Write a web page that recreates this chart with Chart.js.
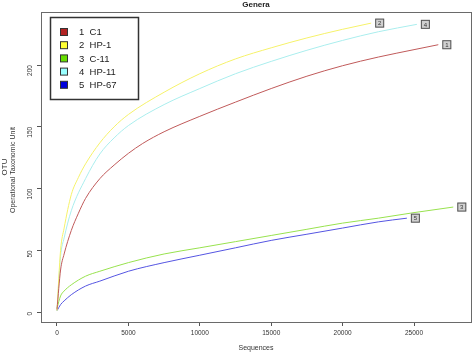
<!DOCTYPE html>
<html>
<head>
<meta charset="utf-8">
<script src="https://cdn.jsdelivr.net/npm/chart.js@4"></script>
<style>
  html, body { margin: 0; padding: 0; background: #fff; }
  #wrap { width: 474px; height: 354px; }
</style>
</head>
<body>
<div id="wrap"><canvas id="chart" width="474" height="354"></canvas></div>
<script>
const c1X   = [0, 250, 500, 1000, 1500, 2000, 3000, 4000, 5000, 6000, 7500, 10000, 12500, 15000, 17500, 20000, 22500, 25000, 26700];
const c1Y   = [2, 34, 47, 66, 80, 92, 108, 119, 128.5, 136.5, 146, 158.5, 170, 181, 191, 199.5, 206.5, 212.5, 216.5];
const hp1X  = [0, 250, 500, 1000, 1500, 2000, 3000, 4000, 5000, 7500, 10000, 12500, 15000, 17500, 20000, 22000];
const hp1Y  = [1, 50, 68, 95, 109, 120, 137, 150, 160, 178, 193, 205, 214, 222, 229, 234];
const c11X  = [0, 250, 500, 1000, 2000, 3000, 5000, 7500, 10000, 12500, 15000, 17500, 20000, 22500, 25000, 27750];
const c11Y  = [3, 13, 17, 22, 29, 33, 40, 47, 52, 57, 62, 67, 72, 76, 80.5, 85];
const hp11X = [0, 250, 500, 1000, 2000, 3000, 4000, 5000, 7500, 10000, 12500, 15000, 17500, 20000, 22500, 25200];
const hp11Y = [1, 45, 60, 82, 108, 128, 141, 151, 168, 181, 193, 203, 212, 220, 227, 233];
const hp67X = [0, 250, 500, 1000, 2000, 3000, 5000, 7500, 10000, 12500, 15000, 17500, 20000, 22500, 24500];
const hp67Y = [1, 6, 9, 14, 21, 25, 33, 40, 46, 52, 58, 63, 68, 73, 76];

const seriesNames = ['C1', 'HP-1', 'C-11', 'HP-11', 'HP-67'];
const lineColors = ['#c05a5a', '#f6f26a', '#98e24e', '#aaeeee', '#5555e2'];
const keyColors = ['#b22222', '#ffff33', '#66dd00', '#99ffff', '#0000dd'];
const xTicks = [0, 5000, 10000, 15000, 20000, 25000];
const yTicks = [0, 50, 100, 150, 200];

const FONT = '"Liberation Sans", Arial, sans-serif';

function pts(xs, ys) {
  return xs.map((x, i) => ({ x, y: ys[i] }));
}
const allX = [c1X, hp1X, c11X, hp11X, hp67X];
const allY = [c1Y, hp1Y, c11Y, hp11Y, hp67Y];

// box, title, axis titles, legend and end labels, R style
const decor = {
  id: 'decor',
  afterDraw(chart) {
    const ctx = chart.ctx;
    const a = chart.chartArea;
    ctx.save();
    ctx.strokeStyle = '#6a6a6a';
    ctx.lineWidth = 1;
    ctx.strokeRect(a.left + 0.5, a.top + 0.5, a.right - a.left - 1, a.bottom - a.top);

    ctx.fillStyle = '#222';
    ctx.font = 'bold 8px ' + FONT;
    ctx.textAlign = 'center';
    ctx.textBaseline = 'middle';
    ctx.fillText('Genera', 256, 5);

    ctx.font = '7px ' + FONT;
    ctx.fillStyle = '#333';
    ctx.fillText('Sequences', 256, 348);

    ctx.save();
    ctx.translate(5, 167);
    ctx.rotate(-Math.PI / 2);
    ctx.font = '8px ' + FONT;
    ctx.fillText('OTU', 0, 0);
    ctx.restore();
    ctx.save();
    ctx.translate(13, 170);
    ctx.rotate(-Math.PI / 2);
    ctx.font = '7px ' + FONT;
    ctx.fillText('Operational Taxonomic Unit', 0, 0);
    ctx.restore();

    // legend
    ctx.strokeStyle = '#333';
    ctx.lineWidth = 1.5;
    ctx.strokeRect(50.5, 17.5, 88, 82);
    ctx.font = '9.5px ' + FONT;
    ctx.textAlign = 'left';
    seriesNames.forEach((n, i) => {
      const y = 32 + i * 13.2;
      ctx.fillStyle = keyColors[i];
      ctx.fillRect(60, y - 3.5, 7, 7);
      ctx.strokeStyle = '#333';
      ctx.lineWidth = 1;
      ctx.strokeRect(60.5, y - 3.5, 7, 7);
      ctx.fillStyle = '#222';
      ctx.fillText((i + 1) + '  ' + n, 79, y + 0.5);
    });

    // number tags at the end of each curve
    ctx.font = '6px ' + FONT;
    ctx.textAlign = 'center';
    chart.data.datasets.forEach((ds, i) => {
      const meta = chart.getDatasetMeta(i);
      const p = meta.data[meta.data.length - 1];
      const bx = p.x + 4, by = p.y - 4.5;
      ctx.fillStyle = '#d0d0d0';
      ctx.fillRect(bx, by, 9, 9);
      ctx.strokeStyle = '#555';
      ctx.lineWidth = 1;
      ctx.strokeRect(bx + 0.5, by + 0.5, 8, 8);
      ctx.fillStyle = '#333';
      ctx.fillText(String(i + 1), bx + 4.5, by + 5);
    });
    ctx.restore();
  }
};

new Chart(document.getElementById('chart'), {
  type: 'line',
  data: {
    datasets: seriesNames.map((n, i) => ({
      label: n,
      data: pts(allX[i], allY[i]),
      borderColor: lineColors[i],
      borderWidth: 1,
      pointRadius: 0,
      fill: false,
      cubicInterpolationMode: 'monotone'
    }))
  },
  options: {
    responsive: false,
    animation: false,
    layout: { padding: { top: 12, right: 2, left: 0, bottom: 0 } },
    plugins: { legend: { display: false }, tooltip: { enabled: false } },
    scales: {
      x: {
        type: 'linear',
        min: -1120,
        max: 29060,
        afterBuildTicks: s => { s.ticks = xTicks.map(v => ({ value: v })); },
        afterFit: s => { s.height = 32; },
        border: { display: false },
        grid: { drawOnChartArea: false, tickLength: 4, color: '#555' },
        ticks: { font: { family: FONT, size: 6.5 }, color: '#333', padding: 3, maxRotation: 0, callback: v => String(v) }
      },
      y: {
        min: -8.1,
        max: 243,
        afterBuildTicks: s => { s.ticks = yTicks.map(v => ({ value: v })); },
        afterFit: s => { s.width = 41; },
        border: { display: false },
        grid: { drawOnChartArea: false, tickLength: 4, color: '#555' },
        ticks: { font: { family: FONT, size: 6.5 }, color: '#333', padding: 7, minRotation: 90, maxRotation: 90, callback: v => String(v) }
      }
    }
  },
  plugins: [decor]
});
</script>
</body>
</html>
